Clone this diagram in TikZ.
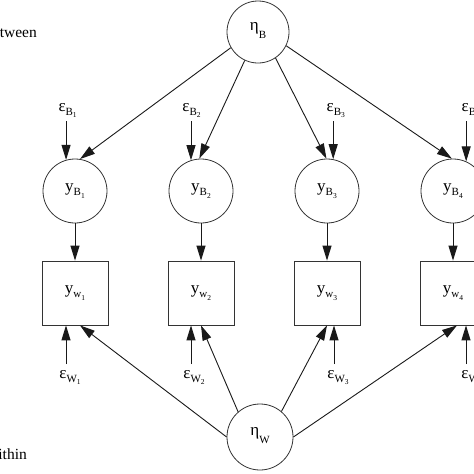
\documentclass[tikz,border=0pt]{standalone}
\usepackage{fontspec}
\setmainfont{Liberation Serif}
\usetikzlibrary{arrows.meta,calc}
% main symbol, subscript lowering, subscript, sub-subscript
\newcommand{\symlab}[4]{{\fontsize{17}{17}\selectfont #1}\raisebox{-#2}{\fontsize{11}{11}\selectfont #3\raisebox{-2.5pt}{\fontsize{7.5}{7.5}\selectfont #4}}}
\newcommand{\epslab}[2]{{\fontsize{17}{17}\selectfont ε}\rlap{\raisebox{-4pt}{\fontsize{11}{11}\selectfont #1\raisebox{-2.5pt}{\fontsize{7.5}{7.5}\selectfont #2}}}}
\tikzset{
  lat/.style={circle, draw=black!80, line width=0.8pt, minimum size=64pt, inner sep=0pt},
  obs/.style={rectangle, draw=black!80, line width=0.8pt, minimum width=66pt, minimum height=64pt, inner sep=0pt},
  arr/.style={-{Triangle[length=15pt,width=9pt]}, line width=0.9pt, draw=black!90},
  lev/.style={font=\fontsize{15.5}{15.5}\selectfont, inner sep=0pt},
  elab/.style={inner sep=0pt, anchor=base},
}
\begin{document}
\begin{tikzpicture}[x=1pt,y=-1pt]
\useasboundingbox (0,0) rectangle (474,474);
\node[lev, anchor=base east] (between) at (37,37) {Between};
\node[lev, anchor=base east] (within) at (27,459) {Within};
% latent factors
\node[lat, minimum size=62pt] (eb) at (258,32) {\symlab{η}{8pt}{B}{}};
\node[lat, minimum size=66pt] (ew) at (260,437) {\symlab{η}{8pt}{W}{}};
% between-level circles
\node[lat] (yb1) at (75,191) {\symlab{y}{4pt}{B}{1}};
\node[lat] (yb2) at (201,191) {\symlab{y}{4pt}{B}{2}};
\node[lat] (yb3) at (327,191) {\symlab{y}{4pt}{B}{3}};
\node[lat] (yb4) at (453,191) {\symlab{y}{4pt}{B}{4}};
% within-level squares
\node[obs] (yw1) at (75,293) {\symlab{y}{4pt}{w}{1}};
\node[obs] (yw2) at (201,293) {\symlab{y}{4pt}{w}{2}};
\node[obs] (yw3) at (327,293) {\symlab{y}{4pt}{w}{3}};
\node[obs] (yw4) at (453,293) {\symlab{y}{4pt}{w}{4}};
% circle -> square
\foreach \i in {1,2,3,4} {\draw[arr] (yb\i.south) -- (yw\i.north);}
% eta_B -> circles
\draw[arr] (eb.210) -- (yb1.81);
\draw[arr] (eb.245) -- (yb2.93);
\draw[arr] (eb.304) -- (yb3.91);
\draw[arr] (eb.334) -- (yb4.92);
% eta_W -> squares
\coordinate (tw1) at ($(yw1.south)+(5,0)$);
\coordinate (tw4) at ($(yw4.south)+(4,0)$);
\draw[arr] (ew.180) -- (tw1);
\draw[arr] (ew.131) -- (yw2.south);
\draw[arr] (ew.50) -- (yw3.south);
\draw[arr] (ew.0) -- (tw4);
% between residuals
\coordinate (eb1) at (yb1.106 |- 0,121);
\coordinate (eb2) at (yb2.108 |- 0,121);
\coordinate (eb3) at (yb3.79 |- 0,121);
\coordinate (eb4) at (yb4.66 |- 0,121);
\draw[arr] (eb1) -- (yb1.106);
\draw[arr] (eb2) -- (yb2.108);
\draw[arr] (eb3) -- (yb3.79);
\draw[arr] (eb4) -- (yb4.66);
\node[elab] (lb1) at ($(eb1)+(-4,-10)$) {\epslab{B}{1}};
\node[elab] (lb2) at ($(eb2)+(-5,-10)$) {\epslab{B}{2}};
\node[elab] (lb3) at ($(eb3)+(-3,-10)$) {\epslab{B}{3}};
\node[elab] (lb4) at ($(eb4)+(-1,-10)$) {\epslab{B}{4}};
% within residuals
\coordinate (sw1) at ($(yw1.south)+(-9,0)$);
\coordinate (sw2) at ($(yw2.south)+(-10,0)$);
\coordinate (sw3) at ($(yw3.south)+(7,0)$);
\coordinate (sw4) at ($(yw4.south)+(13,0)$);
\foreach \i in {1,2,3,4} {
  \coordinate (ewb\i) at (sw\i |- 0,364);
  \draw[arr] (ewb\i) -- (sw\i);
}
\node[elab] (lw1) at ($(ewb1)+(-3,14)$) {\epslab{W}{1}};
\node[elab] (lw2) at ($(ewb2)+(-4,14)$) {\epslab{W}{2}};
\node[elab] (lw3) at ($(ewb3)+(-3,14)$) {\epslab{W}{3}};
\node[elab] (lw4) at ($(ewb4)+(-1,14)$) {\epslab{W}{4}};
\end{tikzpicture}
\end{document}
